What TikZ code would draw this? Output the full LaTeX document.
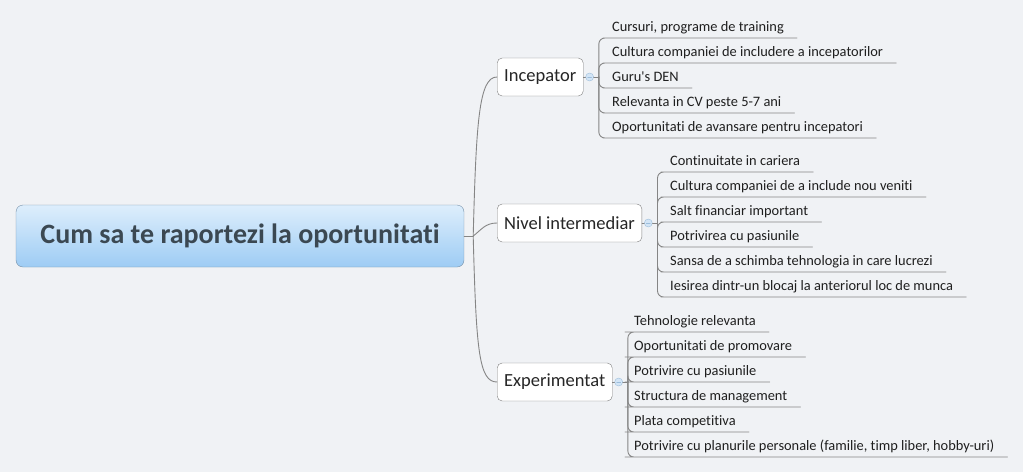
\documentclass[tikz,border=0pt]{standalone}
\usepackage{fontspec}
\setmainfont{Carlito}[Ligatures={NoCommon}]
\usetikzlibrary{positioning}
\definecolor{bgcol}{HTML}{F0F2F5}
\definecolor{linkcol}{HTML}{858585}
\definecolor{boxline}{HTML}{7E7E7E}
\definecolor{rootline}{HTML}{7590A8}
\definecolor{roottop}{HTML}{DDEEFC}
\definecolor{rootbot}{HTML}{9ECCF4}
\definecolor{roottext}{HTML}{3B4852}
\definecolor{knobfill}{HTML}{D3E5F6}
\definecolor{knobline}{HTML}{9DBEDC}
\tikzset{
  rootbox/.style={draw=rootline, top color=roottop, bottom color=rootbot, rounded corners=7pt,
    minimum width=448pt, minimum height=62pt, text=roottext,
    font=\fontsize{28}{32}\selectfont\bfseries},
  topic/.style={draw=boxline, fill=white, rounded corners=5pt, anchor=west, minimum height=38pt,
    inner xsep=7pt, text=black!85, font=\fontsize{18.5}{22}\selectfont},
  knob/.style={circle, draw=knobline, fill=knobfill, minimum size=8pt, inner sep=0pt,
    path picture={\draw[knobline] ([xshift=-2pt]path picture bounding box.center)
      -- ([xshift=2pt]path picture bounding box.center);}},
  leaf/.style={anchor=south west, inner xsep=3pt, inner ysep=0pt, text depth=6pt,
    text=black!88, font=\fontsize{14.4}{17}\selectfont},
  link/.style={draw=linkcol, line width=0.9pt},
}
\begin{document}
\begin{tikzpicture}[x=1pt, y=-1pt, line join=round, line cap=round]
    \fill[bgcol] (0,0) rectangle (1023,472);
    \useasboundingbox (0,0) rectangle (1023,472);
    % central topic and main branches
    \node[rootbox] (root) at (240,236) {Cum sa te raportezi la oportunitati};
    \coordinate (fork) at ([xshift=9pt]root.east);
    \node[topic] (inc) at (497,77) {Incepator};
    \node[topic] (niv) at (497,223) {Nivel intermediar};
    \node[topic] (exp) at (497,382) {Experimentat};
    \draw[link] (root.east) -- (fork);
    \draw[link] (fork) .. controls +(3,-115) and +(-18,0) .. (inc.west);
    \draw[link] (fork) .. controls +(8,-6) and +(-12,0) .. (niv.west);
    \draw[link] (fork) .. controls +(3,115) and +(-18,0) .. (exp.west);
    % knobs and hubs
    \foreach \br in {inc,niv,exp}{
        \node[knob, right=2pt of \br] (\br k) {};
        \coordinate (\br h) at ([xshift=5pt]\br k.east);
        \draw[link] (\br.east) -- (\br k.west);
        \draw[link] (\br k.east) -- (\br h);}
    % leaves
    \foreach \txt [count=\i] in {{Cursuri, programe de training}, Cultura companiei de includere a incepatorilor,
        Guru\textquotesingle s DEN, Relevanta in CV peste 5-7 ani, Oportunitati de avansare pentru incepatori}{
        \node[leaf] (inc\i) at (609,{13+25*\i}) {\txt};
        \draw[link, rounded corners=6pt] (inch) |- (inc\i.south west) -- ([xshift=10pt]inc\i.south east);}
    \foreach \txt [count=\i] in {Continuitate in cariera, Cultura companiei de a include nou veniti,
        Salt financiar important, Potrivirea cu pasiunile, Sansa de a schimba tehnologia in care lucrezi,
        Iesirea dintr-un blocaj la anteriorul loc de munca}{
        \node[leaf] (niv\i) at (667,{147+25*\i}) {\txt};
        \draw[link, rounded corners=6pt] (nivh) |- (niv\i.south west) -- ([xshift=10pt]niv\i.south east);}
    \foreach \txt [count=\i] in {Tehnologie relevanta, Oportunitati de promovare, Potrivire cu pasiunile,
        Structura de management, Plata competitiva,
        {Potrivire cu planurile personale (familie, timp liber, hobby-uri)}}{
        \node[leaf] (exp\i) at (631,{307+25*\i}) {\txt};
        \draw[link, rounded corners=6pt] (exph) |- (exp\i.south west) -- ([xshift=10pt]exp\i.south east);}
\end{tikzpicture}
\end{document}
